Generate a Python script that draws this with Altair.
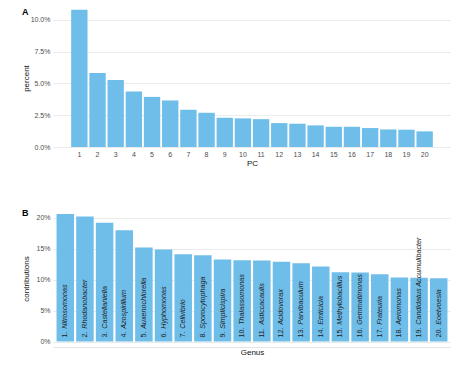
import altair as alt
import pandas as pd

# ---- data ----
pcs = list(range(1, 21))
pc_percent = [10.8, 5.82, 5.27, 4.36, 3.94, 3.66, 2.92, 2.69, 2.30, 2.25,
              2.19, 1.88, 1.83, 1.70, 1.59, 1.59, 1.49, 1.38, 1.36, 1.23]

ranks = list(range(1, 21))
genera = ["Nitrosomonas", "Rhodanobacter", "Castellaniella", "Azospirillum",
          "Auxenochlorella", "Hyphomonas", "Cellvibrio", "Sporocytophaga",
          "Simplicispira", "Thalassomonas", "Asticcacaulis", "Acidovorax",
          "Parvibaculum", "Emticicia", "Methylobacillus", "Gemmatimonas",
          "Frateuria", "Aeromonas", "Candidatus Accumulibacter", "Eoetvoesia"]
contrib = [20.59, 20.22, 19.19, 18.0, 15.2, 14.88, 14.12, 13.96, 13.26, 13.15,
           13.1, 12.88, 12.67, 12.13, 11.21, 11.16, 10.89, 10.35, 10.3, 10.24]

FONT = "Liberation Sans"
BAR = "#6FBEEA"
GRID = "#E6E6E6"
LABEL = "#4D4D4D"

dfA = pd.DataFrame({"PC": pcs, "percent": [v / 100 for v in pc_percent]})
dfB = pd.DataFrame({
    "rank": ranks,
    "genus": genera,
    "contrib": [v / 100 for v in contrib],
    "num": [f"{r}." for r in ranks],
})

# ---- panel A ----
chartA = alt.Chart(dfA).mark_bar(color=BAR).encode(
    x=alt.X("PC:O",
            scale=alt.Scale(paddingInner=0.1, paddingOuter=1.0),
            axis=alt.Axis(title="PC", labelAngle=0, ticks=False, tickSize=0,
                          domain=False, grid=False, labelPadding=3,
                          titlePadding=2)),
    y=alt.Y("percent:Q",
            scale=alt.Scale(domain=[0, 0.1085], nice=False, zero=True),
            axis=alt.Axis(title="percent", values=[0, 0.025, 0.05, 0.075, 0.1],
                          format=".1%", ticks=False, tickSize=0, domain=False,
                          labelPadding=3, titleX=-27, titleBaseline="middle")),
).properties(
    width=398, height=138,
    title=alt.TitleParams("A", anchor="start", frame="bounds", fontSize=9,
                          fontWeight="bold", offset=-8, font=FONT),
)

# ---- panel B ----
axisB = alt.Axis(title="contributions", values=[0, 0.05, 0.1, 0.15, 0.2],
                 format=".0%", ticks=False, tickSize=0, domain=False,
                 labelPadding=3, titleX=-27, titleBaseline="middle",
                 labelOverlap=False)
scaleB = alt.Scale(domain=[-0.0087, 0.2125], nice=False, zero=False)
yB = alt.Y("contrib:Q", scale=scaleB, axis=axisB)
y0 = alt.YDatum(0, axis=axisB)
xB = alt.X("rank:O",
           scale=alt.Scale(paddingInner=0.11, paddingOuter=0.18),
           axis=alt.Axis(title="Genus", labels=False, ticks=False, tickSize=0,
                         domain=True, domainColor=GRID, grid=False,
                         titlePadding=1))

baseB = alt.Chart(dfB).encode(x=xB)
barsB = baseB.mark_bar(color=BAR).encode(y=yB)
numB = baseB.mark_text(angle=270, align="left", baseline="middle", dx=4,
                       fontSize=7.2, color="#222222", font=FONT).encode(
    y=y0, text="num:N")
gen1 = baseB.transform_filter("datum.rank < 10").mark_text(
    angle=270, align="left", baseline="middle", dx=12.8, fontSize=7.2,
    fontStyle="italic", color="#222222", font=FONT).encode(
    y=y0, text="genus:N")
gen2 = baseB.transform_filter("datum.rank >= 10").mark_text(
    angle=270, align="left", baseline="middle", dx=16.8, fontSize=7.2,
    fontStyle="italic", color="#222222", font=FONT).encode(
    y=y0, text="genus:N")

chartB = alt.layer(barsB, numB, gen1, gen2).properties(
    width=398, height=137,
    title=alt.TitleParams("B", anchor="start", frame="bounds", fontSize=9,
                          fontWeight="bold", offset=-8, font=FONT),
)

chart = alt.vconcat(chartA, chartB, spacing=42).properties(
    padding={"left": 14, "top": 0, "right": 0, "bottom": 0},
).configure_view(stroke=None).configure_axis(
    labelFont=FONT, titleFont=FONT, labelFontSize=7, titleFontSize=8,
    labelColor=LABEL, titleColor="#111111", titleFontWeight="normal",
    gridColor=GRID, gridWidth=0.8,
)

chart.save("out.html", embed_options={"renderer": "svg", "actions": False})
